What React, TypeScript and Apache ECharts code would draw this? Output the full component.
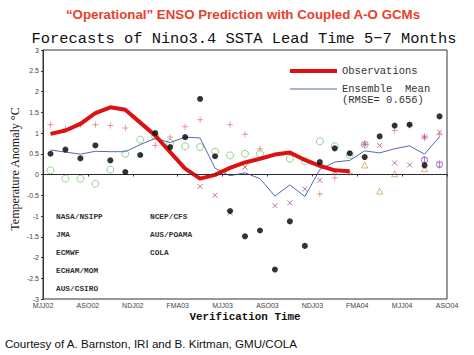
import React, { useEffect, useRef } from "react";
import * as echarts from "echarts";

// x positions (month index from MJJ02, centred in each month)
const monthIndex = [0.5, 1.5, 2.5, 3.5, 4.5, 5.5, 6.5, 7.5, 8.5, 9.5, 10.5, 11.5, 12.5, 13.5, 14.5, 15.5, 16.5, 17.5, 18.5, 19.5, 20.5, 21.5, 22.5, 23.5, 24.5, 25.5, 26.5];
const tickLabels = ["MJJ02", "ASO02", "NDJ02", "FMA03", "MJJ03", "ASO03", "NDJ03", "FMA04", "MJJ04", "ASO04"];

const observations = [0.98, 1.06, 1.22, 1.48, 1.62, 1.56, 1.25, 0.94, 0.54, 0.14, -0.1, -0.01, 0.16, 0.29, 0.38, 0.48, 0.53, 0.35, 0.21, 0.1, 0.08];
const ensembleMean = [0.59, 0.54, 0.49, 0.56, 0.55, 0.55, 0.72, 0.87, 0.77, 0.9, 0.88, 0.15, -0.03, 0.04, -0.1, -0.52, -0.25, -0.53, 0.12, 0.3, 0.34, 0.57, 0.52, 0.62, 0.69, 0.49, 0.91];

const modelDots = [0.5, 0.6, 0.39, 0.7, 0.34, 0.06, 0.47, 1.0, 0.66, 0.9, 1.82, 0.44, -0.88, -1.49, -1.35, -2.29, -1.13, -1.72, 0.3, 0.63, 0.51, 0.42, 0.92, 1.18, 1.2, 0.22, 1.4];
const modelCircles = [0.1, -0.1, -0.1, -0.22, 0.12, 0.5, 0.84, 0.92, 0.76, 0.68, 0.66, 0.55, 0.46, 0.5, 0.5, null, 0.38, 0.32, 0.8, 0.68, 0.47, 0.72, null, null, null, null, null];
const modelPlus = [1.2, 1.1, 1.2, 1.2, 1.18, 1.12, null, 0.7, 0.9, 1.15, 1.32, null, 1.2, 0.97, 0.62, null, null, null, -0.47, -0.08, 0.03, null, null, 1.06, 1.18, null, 0.96];
const modelCross = [null, null, null, null, null, null, null, null, null, null, -0.29, -0.5, -0.93, 0.18, null, -0.75, -0.68, -0.35, -0.14, 0.06, null, null, 0.7, 0.28, 0.23, null, 1.02];
const modelTriangle = [null, null, null, null, null, null, null, null, null, null, null, null, null, null, null, null, null, null, null, null, null, 0.23, -0.4, 0.02, null, 0.14, null];
const modelPhi = [null, null, null, null, null, null, null, null, null, null, null, null, null, null, null, null, null, null, null, null, null, null, null, null, null, 0.35, 0.24];
const modelStar = [null, null, null, null, null, null, null, null, null, null, null, null, null, null, null, null, null, null, null, null, null, 0.73, null, null, null, 0.9, null];

const modelNamesLeft = ["NASA/NSIPP", "JMA", "ECMWF", "ECHAM/MOM", "AUS/CSIRO"];
const modelNamesRight = ["NCEP/CFS", "AUS/POAMA", "COLA"];

const pair = (vals: (number | null)[]) =>
  vals.map((v, i) => (v === null ? null : [monthIndex[i], v])).filter((p) => p !== null);

const PLUS = "path://M5,0L5,10M0,5L10,5";
const CROSS = "path://M0,0L10,10M10,0L0,10";
const STAR = "path://M5,0L5,10M0,5L10,5M1.5,1.5L8.5,8.5M8.5,1.5L1.5,8.5";
const PHI = "path://M5,-2L5,12M10,5A5,5,0,1,1,0,5A5,5,0,1,1,10,5Z";

export default function App() {
  const ref = useRef<HTMLDivElement>(null);
  useEffect(() => {
    if (!ref.current) return;
    const chart = echarts.init(ref.current, null, { renderer: "svg" });
    const mono = "Liberation Mono";
    const graphics: any[] = [
      {
        type: "text", x: 243, y: 14,
        style: { text: "“Operational” ENSO Prediction with Coupled A-O GCMs", font: "bold 13.3px 'Liberation Sans'", fill: "#e8402a", align: "center", verticalAlign: "middle" },
      },
      {
        type: "text", x: 244, y: 39,
        style: { text: "Forecasts of Nino3.4 SSTA Lead Time 5−7 Months", font: `15.4px '${mono}'`, fill: "#111", align: "center", verticalAlign: "middle" },
      },
      {
        type: "text", x: 15, y: 169, rotation: Math.PI / 2,
        style: { text: "Temperature Anomaly °C", font: "12px 'Liberation Serif'", fill: "#111", align: "center", verticalAlign: "middle" },
      },
      {
        type: "text", x: 245, y: 317,
        style: { text: "Verification Time", font: `bold 10.9px '${mono}'`, fill: "#111", align: "center", verticalAlign: "middle" },
      },
      {
        type: "text", x: 5, y: 343,
        style: { text: "Courtesy of A. Barnston, IRI and B. Kirtman, GMU/COLA", font: "11.6px 'Liberation Sans'", fill: "#111", align: "left", verticalAlign: "middle" },
      },
      { type: "line", shape: { x1: 290, y1: 71, x2: 337, y2: 71 }, style: { stroke: "#dd1111", lineWidth: 4 } },
      { type: "line", shape: { x1: 290, y1: 89, x2: 337, y2: 89 }, style: { stroke: "#5566bb", lineWidth: 1 } },
      { type: "text", x: 342, y: 71, style: { text: "Observations", font: `10.5px '${mono}'`, fill: "#333", verticalAlign: "middle" } },
      { type: "text", x: 342, y: 89, style: { text: "Ensemble  Mean", font: `10.5px '${mono}'`, fill: "#333", verticalAlign: "middle" } },
      { type: "text", x: 342, y: 100, style: { text: "(RMSE= 0.656)", font: `10.5px '${mono}'`, fill: "#333", verticalAlign: "middle" } },
    ];
    modelNamesLeft.forEach((n, i) =>
      graphics.push({ type: "text", x: 56, y: 217 + i * 18, style: { text: n, font: `bold 7.8px '${mono}'`, fill: "#333", verticalAlign: "middle" } })
    );
    modelNamesRight.forEach((n, i) =>
      graphics.push({ type: "text", x: 150, y: 217 + i * 18, style: { text: n, font: `bold 7.8px '${mono}'`, fill: "#333", verticalAlign: "middle" } })
    );

    const strokeStyle = (c: string) => ({ color: "none", borderColor: c, borderWidth: 1 });

    chart.setOption({
      animation: false,
      grid: { left: 43, right: 27, top: 50, bottom: 56, show: true, borderColor: "#333", borderWidth: 1 },
      xAxis: {
        type: "value", min: 0, max: 27, interval: 3,
        axisLine: { show: true, lineStyle: { color: "#333" } },
        axisTick: { show: true, length: 2, lineStyle: { color: "#333" } },
        splitLine: { show: false },
        axisLabel: {
          fontSize: 7, color: "#444", fontFamily: "Liberation Sans", margin: 3,
          formatter: (v: number) => tickLabels[Math.round(v / 3)] ?? "",
        },
      },
      yAxis: {
        type: "value", min: -3, max: 3, interval: 0.5,
        axisLine: { show: true, lineStyle: { color: "#333" } },
        axisTick: { show: true, length: 2, lineStyle: { color: "#333" } },
        splitLine: { show: false },
        axisLabel: { fontSize: 7, color: "#444", fontFamily: "Liberation Sans", margin: 4 },
      },
      graphic: graphics,
      series: [
        {
          type: "scatter", data: pair(modelCircles), symbol: "circle", symbolSize: 7,
          itemStyle: strokeStyle("#77c477"), z: 2,
        },
        {
          type: "scatter", data: pair(modelPlus), symbol: PLUS, symbolSize: 6,
          itemStyle: strokeStyle("#e08080"), z: 2,
        },
        {
          type: "scatter", data: pair(modelCross), symbol: CROSS, symbolSize: 5,
          itemStyle: strokeStyle("#b05080"), z: 2,
        },
        {
          type: "scatter", data: pair(modelTriangle), symbol: "triangle", symbolSize: 6,
          itemStyle: strokeStyle("#d4a060"), z: 2,
        },
        {
          type: "scatter", data: pair(modelPhi), symbol: PHI, symbolSize: [6, 8],
          itemStyle: strokeStyle("#9050c0"), z: 2,
        },
        {
          type: "scatter", data: pair(modelStar), symbol: STAR, symbolSize: 7,
          itemStyle: strokeStyle("#c04090"), z: 2,
        },
        {
          type: "line", data: pair(ensembleMean), symbol: "none",
          lineStyle: { color: "#5566bb", width: 1 }, z: 3,
          markLine: {
            silent: true, symbol: "none", label: { show: false },
            lineStyle: { color: "#222", type: [2, 2], width: 1 },
            data: [{ yAxis: 0 }],
          },
        },
        {
          type: "line", data: pair(observations), symbol: "none",
          lineStyle: { color: "#dd1111", width: 4 }, z: 4,
        },
        {
          type: "scatter", data: pair(modelDots), symbol: "circle", symbolSize: 6,
          itemStyle: { color: "#000" }, z: 5,
        },
      ],
    });
    return () => chart.dispose();
  }, []);
  return <div ref={ref} style={{ position: "absolute", left: 0, top: 0, width: 474, height: 355 }} />;
}
